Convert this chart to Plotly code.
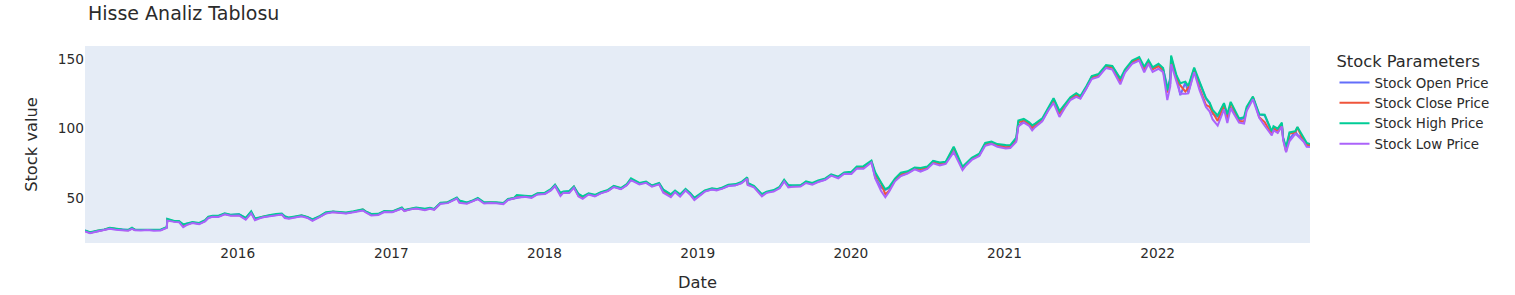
import plotly.graph_objects as go

dates = (
    ["2015-" + d for d in ["01-02","01-14","02-02","02-17","03-02","03-16","04-01","04-15","04-24","05-01","05-15","06-01","06-15","07-01","07-16","07-17","08-03","08-14","08-24","09-01","09-15","10-01","10-15","10-23","11-02","11-16","12-01","12-15"]]
    + ["2016-" + d for d in ["01-04","01-20","02-02","02-11","03-01","03-15","04-01","04-15","04-22","05-02","05-16","06-01","06-15","06-27","07-15","07-29","08-15","09-01","09-15","10-03","10-25","11-01","11-14","12-01","12-15"]]
    + ["2017-" + d for d in ["01-03","01-26","02-01","02-15","03-01","03-22","04-03","04-13","04-28","05-15","06-06","06-12","06-30","07-14","07-26","08-10","08-25","09-08","09-25","10-06","10-20","10-27","11-15","12-01","12-15"]]
    + ["2018-" + d for d in ["01-02","01-16","01-26","02-08","02-15","03-01","03-12","03-23","04-02","04-16","05-01","05-15","06-01","06-15","07-02","07-16","07-26","08-15","08-31","09-14","10-01","10-11","10-29","11-08","11-20","12-03","12-14","12-24"]]
    + ["2019-" + d for d in ["01-07","01-18","02-04","02-15","03-01","03-15","04-01","04-15","04-29","04-30","05-15","06-03","06-14","07-01","07-15","07-26","08-05","08-15","09-03","09-16","10-01","10-15","11-01","11-15","12-02","12-16"]]
    + ["2020-" + d for d in ["01-02","01-15","01-31","02-19","02-28","03-13","03-23","04-01","04-15","04-29","05-15","06-01","06-15","07-01","07-15","07-31","08-14","09-02","09-23","10-01","10-15","11-02","11-16","12-01","12-15"]]
    + ["2021-" + d for d in ["01-04","01-15","01-29","02-03","02-16","03-01","03-08","03-15","04-01","04-15","04-28","05-12","05-25","06-07","06-21","07-01","07-15","07-28","08-13","08-31","09-15","10-04","10-15","11-01","11-18","11-30","12-10","12-20"]]
    + ["2022-" + d for d in ["01-03","01-14","01-24","01-31","02-02","02-15","02-24","03-08","03-15","03-29","04-11","04-26","05-05","05-12","05-24","06-08","06-16","06-24","07-14","07-26","08-01","08-16","08-31","09-13","09-30","10-04","10-14","10-24","10-27","11-03","11-11","11-25","11-30","12-15","12-22","12-30"]]
)

open_price = [
    26.6,25.1,26.1,27.0,28.0,27.6,27.2,26.9,28.0,27.2,27.0,27.2,26.9,27.0,28.7,34.8,33.0,33.1,30.6,31.4,32.2,31.4,33.4,35.8,36.7,36.9,38.5,37.8,
    38.2,35.5,39.9,35.0,36.3,37.1,37.8,38.3,36.8,35.7,36.2,37.0,36.2,34.5,36.6,39.0,40.1,39.5,39.0,40.0,41.3,40.2,38.3,38.4,40.0,
    39.9,42.5,41.1,42.0,42.6,42.0,42.4,41.9,46.0,46.5,49.8,47.9,46.6,47.8,49.4,46.7,46.6,46.8,46.2,48.8,49.6,50.5,51.3,51.0,52.7,
    53.0,55.6,58.8,53.4,54.0,54.8,57.6,52.6,50.8,52.8,51.5,53.6,55.2,58.0,56.5,59.3,63.0,60.6,61.1,58.9,60.5,55.8,52.4,54.5,52.4,55.6,53.4,50.0,
    52.3,54.8,56.3,56.1,57.0,58.8,59.2,60.8,64.0,60.8,58.0,52.6,54.0,55.3,57.2,62.0,59.2,58.4,59.0,61.2,60.5,61.8,63.2,66.3,65.1,67.6,
    67.5,71.6,72.4,76.0,64.8,57.5,55.9,57.3,62.5,66.2,68.0,71.0,69.5,71.3,76.5,75.0,75.8,83.6,72.0,73.7,78.0,80.8,89.0,89.2,87.6,
    87.6,87.5,92.2,102.0,105.2,102.5,101.8,101.6,105.8,113.2,121.4,112.0,115.5,120.9,123.5,122.0,128.8,137.4,137.9,144.0,144.6,135.6,140.6,147.0,149.6,144.0,147.0,143.6,
    145.1,142.8,130.5,132.4,147.5,137.5,124.0,133.0,126.0,141.6,132.8,121.5,118.0,110.5,108.5,117.5,109.5,115.0,106.0,107.5,113.8,122.0,110.0,109.5,97.0,99.0,99.5,102.0,93.0,86.0,92.5,97.8,95.5,91.8,89.0,87.5,
]

close_price = [
    26.2,24.9,26.4,27.1,28.3,27.5,27.0,26.8,28.2,27.0,26.9,27.3,26.8,26.9,28.9,34.2,33.2,33.0,30.0,31.0,32.4,31.6,33.6,36.2,36.9,36.8,38.6,37.6,
    37.8,34.9,39.6,34.6,36.6,37.3,38.0,38.5,36.0,35.5,36.4,37.3,36.0,34.0,36.8,39.3,40.0,39.4,39.2,40.1,41.6,40.0,37.8,38.2,40.3,
    40.1,42.8,40.8,42.1,42.8,41.6,42.6,41.8,46.2,46.7,50.0,47.3,46.3,48.0,49.6,46.4,46.8,46.6,46.0,49.0,49.8,51.6,51.2,50.6,53.0,
    53.4,56.0,59.2,52.3,54.3,54.2,58.0,51.5,50.2,53.0,51.8,53.8,55.4,58.4,56.8,59.6,63.5,60.2,61.4,58.6,60.3,54.6,51.5,54.8,51.6,56.0,53.0,49.0,
    52.7,55.1,56.6,55.9,57.2,59.1,59.5,61.1,64.4,59.9,58.2,51.8,54.2,55.1,57.5,62.6,58.3,58.6,58.7,61.4,60.2,62.1,63.6,66.6,64.8,68.0,
    68.4,72.0,71.6,76.3,67.0,60.6,52.6,55.2,63.1,67.1,68.6,71.4,70.9,71.9,75.7,74.3,75.2,86.4,70.8,74.2,78.3,81.2,88.5,90.0,88.0,
    86.3,86.8,91.4,104.5,105.8,103.4,99.9,102.6,106.4,114.0,119.6,110.5,116.2,121.8,124.5,122.4,129.5,136.8,138.4,144.7,143.8,133.3,141.7,148.0,150.4,141.8,148.5,142.5,
    144.9,141.6,125.9,135.3,151.5,136.4,131.0,126.5,129.5,143.2,128.8,117.0,115.5,112.0,105.5,116.5,106.0,118.5,105.5,105.0,114.2,122.7,108.2,104.6,95.6,101.0,97.2,103.0,92.6,83.4,96.4,97.0,100.9,90.9,88.3,88.2,
]

high_price = [
    26.7,25.4,26.7,27.4,28.6,27.9,27.3,27.1,28.6,27.3,27.2,27.6,27.1,27.2,29.2,35.0,33.5,33.4,31.0,31.5,32.7,32.0,34.0,36.6,37.3,37.2,39.0,38.0,
    38.3,35.7,40.5,35.3,36.9,37.6,38.4,38.8,36.9,35.9,36.7,37.6,36.4,34.6,37.1,39.7,40.3,39.7,39.5,40.4,41.9,40.4,38.5,38.6,40.6,
    40.4,43.2,41.3,42.4,43.1,42.2,42.9,42.1,46.6,47.0,50.4,48.2,46.8,48.3,50.0,46.9,47.1,47.0,46.4,49.3,50.1,52.2,51.6,51.2,53.4,
    53.8,56.4,59.7,53.8,54.7,55.0,58.4,52.9,51.2,53.4,52.3,54.2,55.8,58.8,57.2,60.0,64.2,60.8,61.8,59.0,60.8,56.0,52.7,55.4,52.6,56.5,53.6,50.1,
    53.2,55.5,57.0,56.4,57.6,59.5,60.0,61.5,64.9,60.9,58.7,52.8,54.6,55.7,58.0,63.1,59.3,59.1,59.2,61.9,60.8,62.6,64.1,67.0,65.4,68.4,
    68.8,72.6,72.9,76.9,68.5,61.2,56.3,57.8,64.0,68.2,69.2,72.0,71.6,72.6,76.8,75.6,76.1,86.9,72.5,74.9,79.0,81.9,89.6,90.6,88.8,
    88.2,88.0,93.4,105.8,106.9,104.4,102.3,103.5,107.3,115.1,121.8,112.6,117.2,122.6,125.4,123.4,130.4,137.8,139.2,145.6,145.0,135.9,142.5,148.9,151.4,144.5,149.3,144.1,
    146.6,143.6,127.4,136.6,152.6,138.2,132.6,133.8,130.6,143.9,133.6,122.1,118.6,113.4,109.4,118.3,110.2,119.2,107.3,108.1,115.5,123.0,110.3,110.0,97.9,101.7,99.9,104.2,93.3,86.6,97.2,98.1,101.1,92.7,89.7,88.9,
]

low_price = [
    25.9,24.6,26.0,26.8,27.9,27.2,26.7,26.5,27.8,26.7,26.6,27.0,26.5,26.6,28.5,33.7,32.8,32.6,29.0,30.5,32.0,31.2,33.2,35.6,36.5,36.4,38.2,37.2,
    37.4,34.3,39.0,34.0,36.2,36.9,37.6,38.1,35.6,35.1,36.0,36.9,35.6,33.6,36.4,38.9,39.7,39.0,38.8,39.8,41.0,39.6,37.4,37.8,39.9,
    39.7,42.3,40.5,41.8,42.5,41.2,42.3,41.5,45.8,46.3,49.6,46.6,45.9,47.6,49.2,46.0,46.4,46.2,45.6,48.6,49.4,50.3,50.8,50.1,52.6,
    52.9,55.5,58.6,51.4,53.8,53.6,57.4,51.0,49.4,52.5,51.2,53.3,54.9,57.9,56.3,59.1,62.8,59.7,60.9,58.1,59.8,53.8,50.6,54.2,51.0,55.4,52.4,48.5,
    52.0,54.6,56.1,55.5,56.7,58.6,59.1,60.6,63.8,59.4,57.7,51.2,53.7,54.6,57.0,61.9,57.6,58.0,58.2,60.8,59.6,61.5,63.1,66.1,64.2,67.4,
    67.3,71.2,71.0,75.6,64.0,55.0,50.5,54.6,62.0,65.8,67.6,70.6,69.0,70.9,75.0,73.5,74.5,83.0,70.0,73.2,77.4,80.2,87.6,88.9,86.9,
    85.7,86.0,90.4,101.5,104.3,101.8,98.6,101.0,105.2,112.8,118.5,108.3,115.0,120.5,122.8,121.4,128.3,135.6,137.2,143.6,142.4,131.8,140.2,146.6,148.9,140.5,146.6,140.8,
    143.0,140.6,120.5,130.3,146.3,134.3,125.0,125.0,125.3,140.5,127.5,115.5,112.2,106.5,102.1,113.8,104.0,114.5,104.3,103.5,112.6,121.0,107.8,102.0,95.0,98.6,96.8,101.5,91.6,83.0,90.8,96.1,95.0,90.5,86.9,86.7,
]

series = [
    ("Stock Open Price", open_price, "#636efa"),
    ("Stock Close Price", close_price, "#EF553B"),
    ("Stock High Price", high_price, "#00cc96"),
    ("Stock Low Price", low_price, "#ab63fa"),
]

fig = go.Figure()
for name, vals, color in series:
    fig.add_trace(go.Scatter(x=dates, y=vals, mode="lines", name=name,
                             line=dict(color=color, width=2)))

TXT = "#2b2b2b"
fig.update_layout(
    width=1515, height=295,
    margin=dict(l=85, r=205, t=46, b=52, autoexpand=False),
    paper_bgcolor="white", plot_bgcolor="#E5ECF6",
    font=dict(family="DejaVu Sans, Verdana, sans-serif", color=TXT, size=13.7),
    title=dict(text="Hisse Analiz Tablosu", x=88/1515, xref="container", xanchor="left",
               y=0.955, yanchor="middle", font=dict(size=19, color=TXT)),
    legend=dict(title=dict(text="Stock Parameters", font=dict(size=16.3)),
                font=dict(size=13.4), x=1.02, y=1, xanchor="left", yanchor="top",
                tracegroupgap=0),
    showlegend=True,
)
fig.update_xaxes(title=dict(text="Date", font=dict(size=16.3), standoff=16), automargin=False,
                 range=["2015-01-02", "2022-12-30"],
                 showgrid=False, zeroline=False, dtick="M12", tick0="2016-01-01", tickformat="%Y",
                 tickfont=dict(size=13.7), ticks="")
fig.update_yaxes(title=dict(text="Stock value", font=dict(size=16.3), standoff=16), automargin=False,
                 range=[17.6, 159.4],
                 showgrid=False, zeroline=False, dtick=50, tickfont=dict(size=13.7), ticks="")

fig.write_html("out.html")
